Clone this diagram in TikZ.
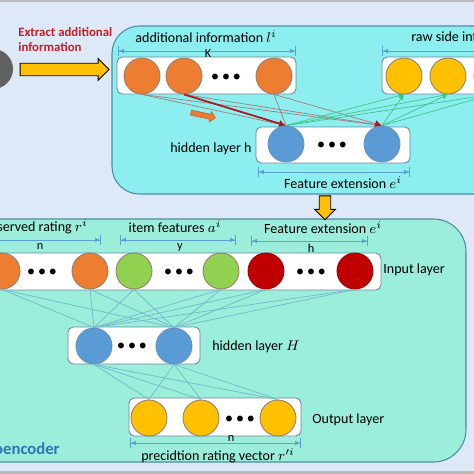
\documentclass[tikz,border=0pt]{standalone}
\usepackage{fontspec}
\setmainfont{Carlito}
\usetikzlibrary{shapes.arrows,arrows.meta,positioning}

\definecolor{bgblue}{RGB}{221,233,246}
\definecolor{topcyan}{RGB}{140,238,238}
\definecolor{botcyan}{RGB}{154,238,218}
\definecolor{panelline}{RGB}{80,140,165}
\definecolor{boxline}{RGB}{110,135,160}
\definecolor{dimblue}{RGB}{90,160,210}
\definecolor{orangeu}{RGB}{237,125,49}
\definecolor{yellowu}{RGB}{255,192,0}
\definecolor{greenu}{RGB}{146,208,80}
\definecolor{redu}{RGB}{192,0,0}
\definecolor{blueu}{RGB}{91,155,213}
\definecolor{linkgray}{RGB}{165,125,125}
\definecolor{linkred}{RGB}{170,25,35}
\definecolor{linkgreen}{RGB}{60,200,140}
\definecolor{linkteal}{RGB}{115,185,205}
\definecolor{titlered}{RGB}{200,30,40}
\definecolor{titleblue}{RGB}{46,117,182}

\begin{document}
\begin{tikzpicture}[x=0.02cm, y=-0.02cm,
                font=\fontsize{8}{9.5}\selectfont,
                neuron/.style={circle, draw=gray!75!brown, line width=0.5pt,
                minimum size=0.72cm, inner sep=0pt},
                orange neuron/.style={neuron, fill=orangeu},
                yellow neuron/.style={neuron, fill=yellowu},
                green neuron/.style={neuron, fill=greenu},
                red neuron/.style={neuron, fill=redu, draw=redu!80!black},
                blue neuron/.style={neuron, fill=blueu, draw=blueu!70!gray},
                layer box/.style={draw=boxline, fill=white, rounded corners=3pt,
                line width=0.5pt, inner sep=0pt, minimum height=0.74cm},
                panel/.style={draw=panelline, line width=0.6pt},
                dots/.style={inner sep=0pt, font=\fontsize{8.5}{9}\selectfont},
                % dimension lines above and below the layers
                dim line/.style={draw=dimblue, line width=0.4pt,
                {Bar[width=6pt]Latex[length=3pt,width=2.6pt]}-{Latex[length=3pt,width=2.6pt]Bar[width=6pt]}},
                dimtxt/.style={inner sep=0pt, font=\fontsize{7}{8}\selectfont},
                txt/.style={inner sep=0pt},
                link/.style={draw=linkgray, line width=0.4pt},
                teal link/.style={draw=linkteal, line width=0.4pt},
                green link/.style={draw=linkgreen, line width=0.4pt, -{Latex[length=3pt,width=3pt]}},
                block arrow/.style={single arrow, draw=black, line width=0.5pt, fill=yellowu,
                single arrow head extend=2.7pt}
                ]
\useasboundingbox (0,0) rectangle (474,474);
\fill[bgblue] (0,0) rectangle (474,474);
\fill[gray!55] (0,0) rectangle (474,2);
\fill[gray!55] (0,471) rectangle (474,474);

%% Panels
\draw[panel, fill=topcyan, rounded corners=0.55cm] (112,26) rectangle (560,194);
\draw[panel, fill=botcyan, rounded corners=0.65cm] (-40,219) rectangle (466,462);

%% Input of the top part
\node[circle, fill=gray!75!black, minimum size=0.8cm] (user) at (-7,69) {};
\node[txt, anchor=north west, align=left, text=titlered, font=\fontsize{7.3}{8.4}\selectfont\bfseries]
    (extract) at (18,27) {Extract additional\\information};
\node[block arrow, minimum height=1.78cm, minimum width=0.42cm, inner sep=3.3pt] (bigarrow) at (61.5,69.5) {};

%%%% additional information l^i
\node[layer box, minimum width=3.58cm] (addbox) at (206.5,75.5) {};
\node[orange neuron] (o1) at (142,76) {};
\node[orange neuron] (o2) at (184,76) {};
\node[dots] (odots) at (226,77) {$\bullet\bullet\bullet$};
\node[orange neuron] (o3) at (274,76) {};
\node[txt] (addlabel) at (206,37) {additional information $l^i$};
\coordinate (K-l) at (118,51);
\coordinate (K-r) at (296,51);
\draw[dim line] (K-l) -- (K-r);
\node[dimtxt] (K) at (208,54) {K};

%%%% raw side information
\node[layer box, minimum width=3.56cm] (rawbox) at (471,75.5) {};
\node[yellow neuron] (y1) at (404,76) {};
\node[yellow neuron] (y2) at (448,76) {};
\node[yellow neuron] (y3) at (492,76) {};
\node[txt, anchor=west] (rawlabel) at (411,37) {raw side information};
\coordinate (R-l) at (382,51);
\coordinate (R-r) at (600,51);
\draw[dim line] (R-l) -- (R-r);

%%%% hidden layer h
\node[layer box, minimum width=3.08cm, minimum height=0.72cm] (hbox) at (333,145) {};
\node[blue neuron] (h1) at (286,144) {};
\node[dots] (hdots) at (332,145) {$\bullet\bullet\bullet$};
\node[blue neuron] (h2) at (382,144) {};
\node[txt, anchor=east] (hlabel) at (252,149) {hidden layer h};
\coordinate (E-l) at (258,172);
\coordinate (E-r) at (410,172);
\draw[dim line] (E-l) -- (E-r);
\node[txt] (elabel) at (343,183) {Feature extension $e^i$};

%% connections of the top part
\draw[link] (o1.south) -- (h1.north);
\draw[link] (o1.south) -- (h2.north);
\draw[link] (o2.south) -- (h2.north);
\draw[link] (o3.south) -- (h1.north);
\draw[link, -{Latex[length=4pt,width=4pt,color=linkred]}] (o3.south) -- (h2.north);
\draw[draw=linkred, line width=1pt, -{Latex[length=4pt,width=4pt]}] (o2.south) -- (h1.north);
\foreach \y in {y1,y2,y3}{
  \draw[green link] (h1.north) -- (\y.south);
  \draw[green link] (h2.north) -- (\y.south);
}
\node[single arrow, fill=orangeu, draw=orangeu!80!black, line width=0.3pt, rotate=-12,
      minimum height=0.5cm, minimum width=0.2cm, inner sep=1.3pt,
      single arrow head extend=1.6pt] (smallarrow) at (202,115) {};

%% Arrow between the two parts
\node[block arrow, shape border rotate=270, minimum height=0.48cm, minimum width=0.42cm,
      inner sep=3pt] (downarrow) at (325,205) {};

%%%% Input layer
\node[layer box, minimum width=8.82cm] (inbox) at (160.5,271.5) {};
\node[orange neuron] (i1) at (2,271) {};
\node[dots] (idots1) at (42,272) {$\bullet\bullet\bullet$};
\node[orange neuron] (i2) at (90,271) {};
\node[green neuron] (i3) at (134,271) {};
\node[dots] (idots2) at (179,272) {$\bullet\bullet\bullet$};
\node[green neuron] (i4) at (221,271) {};
\node[red neuron] (i5) at (266,271) {};
\node[dots] (idots3) at (311,272) {$\bullet\bullet\bullet$};
\node[red neuron] (i6) at (355,271) {};
\node[txt, anchor=west] (inlabel) at (383,270) {Input layer};

\node[txt, anchor=east] (rlabel) at (88,227) {Observed rating $r^i$};
\node[txt] (alabel) at (175,227) {item features $a^i$};
\node[txt] (e2label) at (323,228) {Feature extension $e^i$};
\coordinate (n-l) at (-60,240);
\coordinate (n-r) at (101,240);
\coordinate (y-l) at (120,240);
\coordinate (y-r) at (236,240);
\coordinate (h-l) at (251,241);
\coordinate (h-r) at (368,241);
\draw[dim line] (n-l) -- (n-r);
\draw[dim line] (y-l) -- (y-r);
\draw[dim line] (h-l) -- (h-r);
\node[dimtxt] (n1) at (40,247) {n};
\node[dimtxt] (y) at (180,248) {y};
\node[dimtxt] (h) at (311,248) {h};

%%%% hidden layer H
\node[layer box, minimum width=2.64cm] (Hbox) at (134,345.5) {};
\node[blue neuron] (H1) at (94,346) {};
\node[dots] (Hdots) at (132,346) {$\bullet\bullet\bullet$};
\node[blue neuron] (H2) at (174,346) {};
\node[txt, anchor=west] (Hlabel) at (212,347) {hidden layer $H$};

%%%% Output layer
\node[layer box, minimum width=3.44cm, minimum height=0.76cm] (outbox) at (215,417) {};
\node[yellow neuron] (p1) at (149,418) {};
\node[yellow neuron] (p2) at (201,418) {};
\node[dots] (pdots) at (240,419) {$\bullet\bullet\bullet$};
\node[yellow neuron] (p3) at (278,418) {};
\node[txt, anchor=west] (outlabel) at (312,420) {Output layer};
\coordinate (p-l) at (130,443);
\coordinate (p-r) at (301,443);
\draw[dim line] (p-l) -- (p-r);
\node[dimtxt] (n2) at (231,439) {n};
\node[txt] (plabel) at (218,456) {precidtion rating vector $r'^i$};

\node[txt, anchor=east, text=titleblue, font=\fontsize{9.5}{11}\selectfont\bfseries] (autoenc) at (60,449) {Autoencoder};

%% connections of the autoencoder
\foreach \i in {i1,i2,i3,i4,i5,i6}{
  \draw[teal link] (\i.south) -- (H1.north);
  \draw[teal link] (\i.south) -- (H2.north);
}
\foreach \p in {p1,p2,p3}{
  \draw[teal link] (H1.south) -- (\p.north);
  \draw[teal link] (H2.south) -- (\p.north);
}

\end{tikzpicture}
\end{document}
